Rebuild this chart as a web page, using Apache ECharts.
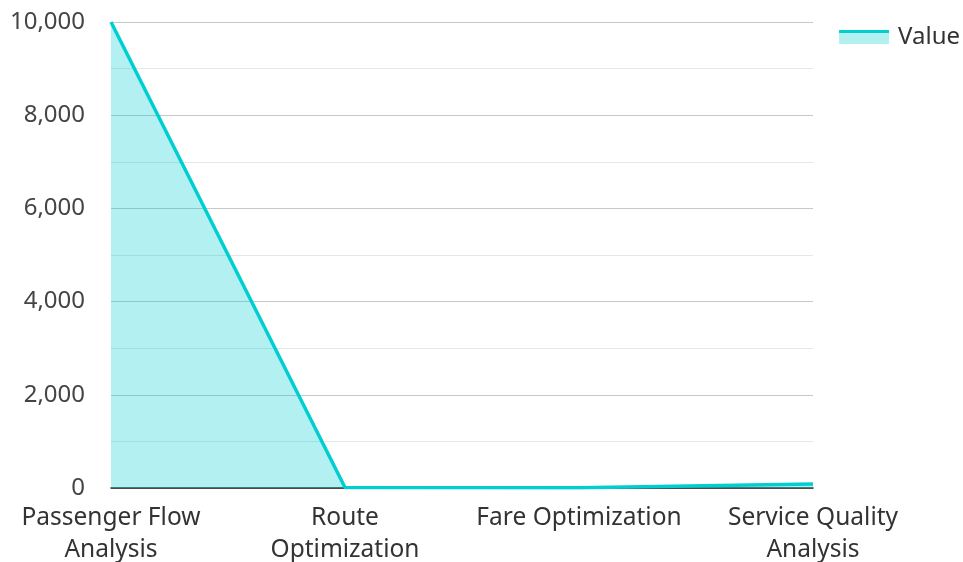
<!DOCTYPE html>
<html>
<head>
<meta charset="utf-8">
<style>
  html, body { margin: 0; padding: 0; background: #fff; }
  #chart { width: 963px; height: 562px; }
</style>
<script src="https://cdn.jsdelivr.net/npm/echarts@6/dist/echarts.min.js"></script>
</head>
<body>
<div id="chart"></div>
<script>
const categories = ['Passenger Flow\nAnalysis', 'Route\nOptimization', 'Fare Optimization', 'Service Quality\nAnalysis'];
const values = [10000, 12, 8, 85];
const seriesName = 'Value';

const lineColor = '#00CED1';
const fillColor = 'rgba(0, 206, 209, 0.3)';
const font = '"Noto Sans", "Open Sans", sans-serif';

const chart = echarts.init(document.getElementById('chart'));

// Legend swatch: solid stroke along the top, translucent fill beneath
const legendSwatch = new echarts.graphic.LinearGradient(0, 0, 0, 1, [
  { offset: 0, color: lineColor },
  { offset: 0.24, color: lineColor },
  { offset: 0.24, color: '#b3f0f1' },
  { offset: 1, color: '#b3f0f1' }
]);

chart.setOption({
  animation: false,
  textStyle: { fontFamily: font },
  grid: { left: 111, right: 150, top: 22, bottom: 74, containLabel: false, outerBoundsMode: 'none' },
  legend: {
    data: [{ name: seriesName, icon: 'rect', itemStyle: { color: legendSwatch } }],
    right: 3,
    top: 25,
    padding: 0,
    itemWidth: 50,
    itemHeight: 14,
    itemGap: 10,
    textStyle: { fontSize: 24, color: '#333', fontFamily: font, padding: [0, 0, 18, 4] }
  },
  xAxis: {
    type: 'category',
    data: categories,
    boundaryGap: false,
    axisLine: { lineStyle: { color: '#222', width: 1.5 } },
    axisTick: { show: false },
    axisLabel: { fontSize: 24.5, color: '#333', lineHeight: 32, margin: 14, interval: 0, fontFamily: font }
  },
  yAxis: {
    type: 'value',
    min: 0,
    max: 10000,
    interval: 2000,
    axisLine: { show: false },
    axisTick: { show: false },
    axisLabel: { fontSize: 24, color: '#444', margin: 26, fontFamily: font },
    splitLine: { lineStyle: { color: '#c8c8c8', width: 1 } },
    minorTick: { show: false, splitNumber: 2 },
    minorSplitLine: { show: true, lineStyle: { color: '#e6e6e6', width: 1 } }
  },
  series: [{
    name: seriesName,
    type: 'line',
    data: values,
    symbol: 'none',
    lineStyle: { color: lineColor, width: 3.5 },
    itemStyle: { color: lineColor },
    areaStyle: { color: fillColor, opacity: 1 }
  }]
});
</script>
</body>
</html>
